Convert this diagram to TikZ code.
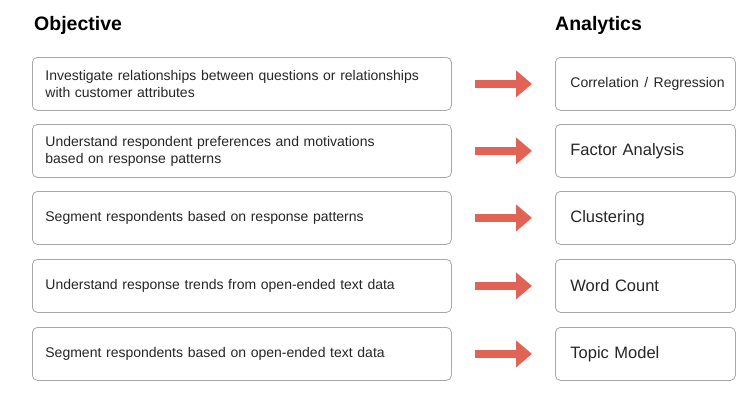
\documentclass[tikz,border=0pt]{standalone}
\usepackage{fontspec}
\setmainfont{Liberation Sans}
\usetikzlibrary{arrows.meta}
\definecolor{arr}{HTML}{E06356}
\definecolor{bd}{HTML}{A8A8A8}
\begin{document}
\begin{tikzpicture}[x=1pt,y=1pt,
 box/.style={draw=bd,line width=0.8pt,rounded corners=5pt,fill=white,anchor=north west,inner sep=0pt},
 lt/.style={box,minimum width=419pt,minimum height=53pt,align=left,text width=393pt,font=\fontsize{14}{17}\selectfont,text=black!85},
 rt/.style={box,minimum width=180pt,minimum height=53pt,align=left,text width=150pt,font=\fontsize{16.5}{19}\selectfont,text=black!85},
 ar/.style={draw=arr,line width=8pt,-{Triangle[length=16pt,width=26pt]},shorten <=23pt,shorten >=23pt}]
\useasboundingbox (0,0) rectangle (752,400);
\node[anchor=west,inner sep=0pt,font=\fontsize{19.5}{22}\bfseries\selectfont] (t1) at (34,375) {Objective};
\node[anchor=west,inner sep=0pt,font=\fontsize{19.5}{22}\bfseries\selectfont] (t2) at (555,375) {Analytics};
\foreach \i/\y/\lt/\rt in {
 1/343/{Investigate relationships between questions or relationships\\with customer attributes}/{\fontsize{14}{16}\selectfont\mbox{Correlation / Regression}},
 2/276/{Understand respondent preferences and motivations\\based on response patterns}/{Factor Analysis},
 3/209/{Segment respondents based on response patterns}/{Clustering},
 4/141/{Understand response trends from open-ended text data}/{Word Count},
 5/73/{Segment respondents based on open-ended text data}/{Topic Model}}{
 \node[lt] (l\i) at (32,\y) {\lt};
 \node[rt] (r\i) at (555,\y) {\rt};
 \draw[ar] (l\i.east) -- (r\i.west);
}
\end{tikzpicture}
\end{document}
